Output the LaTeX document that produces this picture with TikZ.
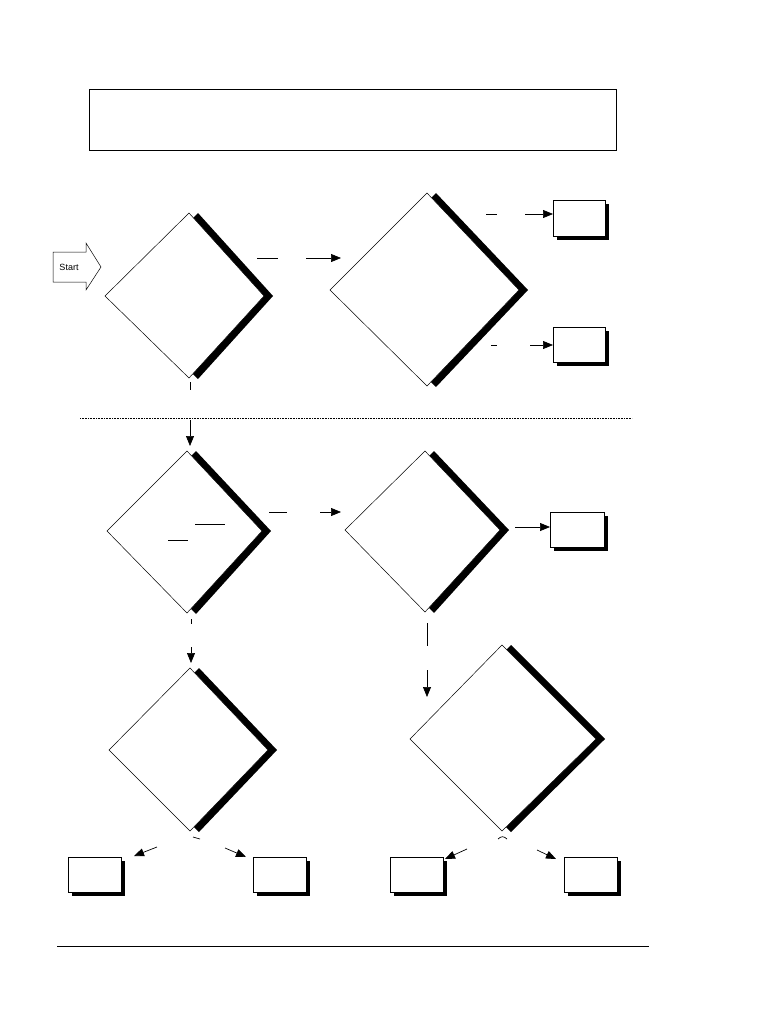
\documentclass[tikz,border=0pt]{standalone}
\usepackage{fontspec}
\setsansfont{Liberation Sans}
\usetikzlibrary{arrows.meta}
\begin{document}
\begin{tikzpicture}[x=1pt,y=-1pt,
  conn/.style={-{Triangle[length=10pt,width=8pt]},line width=0.7pt},
  seg/.style={line width=0.7pt},
  box/.style={draw,fill=white,line width=0.5pt}]
\useasboundingbox (0,0) rectangle (768,1024);
\newcommand{\dia}[7]{% name, cx, cy, left x, right x, top y, bottom y
  \fill[black] (#4+9,#3+1) -- (#2+9,#6) -- (#5+9,#3) -- (#2+9,#7+1) -- cycle;
  \draw[fill=white,line width=0.5pt] (#4,#3) -- (#2,#6) -- (#5,#3) -- (#2,#7) -- cycle;
  \coordinate (#1) at (#2,#3);}
\newcommand{\bx}[5]{%
  \fill[black] (#2+4,#3+4) rectangle (#4+4,#5+4);
  \node[box,minimum width=#4-#2,minimum height=#5-#3,inner sep=0pt,anchor=north west] (#1) at (#2,#3) {};}
% title
\node[draw,line width=0.6pt,minimum width=527,minimum height=61,inner sep=0pt,anchor=north west] (title) at (89,89) {};
% start
\draw[line width=0.5pt,fill=white] (53,252) -- (86,252) -- (86,243) -- (101,267) -- (86,290) -- (86,282) -- (53,282) -- cycle;
\node[font=\sffamily\fontsize{9}{10}\selectfont] (start) at (69,267) {Start};
% diamonds
\dia{d1}{189}{296}{105}{264}{213}{378}
\dia{d2}{427}{290}{330}{519}{193}{386}
\dia{d3}{187}{531}{107}{262}{451}{613}
\dia{d4}{425}{530}{345}{500}{451}{612}
\dia{d5}{190}{750}{109}{268}{668}{831}
\dia{d6}{502}{739}{410}{596}{645}{831}
% boxes
\bx{r1}{553}{200}{605}{236}
\bx{r2}{553}{327}{605}{362}
\bx{r3}{550}{512}{604}{547}
\bx{r4}{68}{857}{121}{892}
\bx{r5}{253}{857}{306}{892}
\bx{r6}{390}{857}{443}{892}
\bx{r7}{564}{857}{617}{892}
% lines
\draw[densely dotted,line width=0.6pt] (80,418) -- (632,418);
\draw[line width=0.6pt] (57,946) -- (649,946);
% connectors (partial, as printed)
\draw[seg] (257,258) -- (278,258); \draw[conn] (306,258) -- (341,258);
\draw[seg] (486,214) -- (497,214); \draw[conn] (525,214) -- (r1.west |- 525,214);
\draw[seg] (491,345) -- (497,345); \draw[conn] (530,345) -- (r2.west |- 530,345);
\draw[seg] (190,382) -- (190,390); \draw[conn] (190,420) -- (190,446);
\draw[seg] (269,512) -- (287,512); \draw[conn] (320,512) -- (341,512);
\draw[seg] (195,524) -- (225,524); \draw[seg] (168,540) -- (188,540);
\draw[conn] (515,527) -- (r3.west |- 515,527);
\draw[seg] (191,619) -- (191,624); \draw[conn] (191,647) -- (191,663);
\draw[seg] (427,623) -- (427,646); \draw[conn] (427,670) -- (427,697);
\draw[seg] (193,837) -- (200,839);
\draw[conn] (157,847) -- (134,856);
\draw[conn] (225,848) -- (246,857);
\draw[seg] (498,839) .. controls (501,836) and (504,836) .. (507,839);
\draw[conn] (467,849) -- (445,859);
\draw[conn] (537,850) -- (556,859);
\end{tikzpicture}
\end{document}
